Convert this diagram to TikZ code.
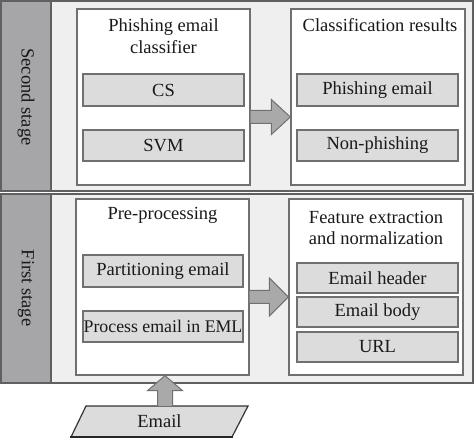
\documentclass[tikz,border=0pt]{standalone}
\usepackage{fontspec}
\setmainfont{Liberation Serif}
\usetikzlibrary{calc}
\definecolor{labelgray}{HTML}{A6A6A9}
\definecolor{panelgray}{HTML}{EFEFEF}
\definecolor{itemgray}{HTML}{DCDCDC}
\definecolor{linegray}{HTML}{707070}
\definecolor{framegray}{HTML}{606060}
\definecolor{arrowgray}{HTML}{A9A9A9}
\begin{document}
\begin{tikzpicture}[x=1pt,y=-1pt,
  every node/.style={font=\rmfamily\fontsize{18.5}{21.5}\selectfont, text=black!90},
  stagelabel/.style={fill=labelgray, draw=framegray, line width=1.5pt},
  stagepanel/.style={fill=panelgray, draw=framegray, line width=1.5pt},
  groupbox/.style={fill=white, draw=linegray, line width=1.3pt, inner sep=0pt},
  itembox/.style={fill=itemgray, draw=linegray, line width=1.3pt, inner sep=0pt, minimum width=161pt},
  titletext/.style={inner sep=0pt, align=center},
  bigarrow/.style={fill=arrowgray, draw=linegray, line width=1pt, line join=miter}
]
\useasboundingbox (0,0) rectangle (474,438);

% stage panels
\draw[stagepanel] (1,1) rectangle (473,191);
\draw[stagelabel] (1,1) rectangle (51,191);
\draw[stagepanel] (1,194) rectangle (473,383);
\draw[stagelabel] (1,194) rectangle (51,383);
\node[rotate=-90] (lab2) at (26,97) {Second stage};
\node[rotate=-90] (lab1) at (26,288) {First stage};

% second stage
\node[groupbox, minimum width=173pt, minimum height=176pt] (pec) at (163.5,97) {};
\node[titletext] (pect) at (163.5,36) {Phishing email\\classifier};
\node[itembox, minimum height=32pt] (cs) at (163.5,90) {CS};
\node[itembox, minimum height=31pt] (svm) at (163.5,145.5) {SVM};

\node[groupbox, minimum width=174pt, minimum height=176pt] (res) at (378,97) {};
\node[titletext] (rest) at (380,25) {Classification results};
\node[itembox, minimum height=32pt] (phe) at (377.5,90) {Phishing email};
\node[itembox, minimum height=31pt] (nph) at (377.5,145.5) {Non-phishing};

% first stage
\node[groupbox, minimum width=173pt, minimum height=176pt] (pre) at (162.5,287) {};
\node[titletext] (pret) at (162.5,215) {Pre-processing};
\node[itembox, minimum width=160pt, minimum height=32pt] (part) at (163,271) {Partitioning email};
\node[itembox, minimum width=160pt, minimum height=31pt] (proc) at (163,326.5) {\fontsize{17.8}{21}\selectfont Process email in EML};

\node[groupbox, minimum width=174pt, minimum height=176pt] (fen) at (376,287) {};
\node[titletext] (fent) at (376,228) {Feature extraction\\and normalization};
\node[itembox, minimum height=30pt] (hdr) at (377.5,278) {Email header};
\node[itembox, minimum height=30pt] (body) at (377.5,312) {Email body};
\node[itembox, minimum height=30pt] (url) at (377.5,347) {URL};

% email input
\fill[itemgray] (86,406) -- (248,406) -- (232,437) -- (71,437) -- cycle;
\draw[black!80, line width=1.2pt] (71,437) -- (86,406) -- (248,406) -- (232,437);
\draw[black!85, line width=2.2pt] (70,437) -- (233,437);
\node[inner sep=0pt, minimum width=150pt, minimum height=31pt] (email) at (159.5,421.5) {Email};

% big arrows
\path ($(pec.east)+(0,20)$) coordinate (a1s);
\path ($(res.west)+(0,20)$) coordinate (a1e);
\draw[bigarrow] ($(a1s)+(0,-6.5)$) -- ($(a1e)+(-19,-6.5)$) -- ($(a1e)+(-19,-17.5)$) -- (a1e)
  -- ($(a1e)+(-19,17.5)$) -- ($(a1e)+(-19,6.5)$) -- ($(a1s)+(0,6.5)$);

\path ($(pre.east)+(0,10)$) coordinate (a2s);
\path ($(fen.west)+(0,10)$) coordinate (a2e);
\draw[bigarrow] ($(a2s)+(0,-6.5)$) -- ($(a2e)+(-19,-6.5)$) -- ($(a2e)+(-19,-19)$) -- (a2e)
  -- ($(a2e)+(-19,19)$) -- ($(a2e)+(-19,6.5)$) -- ($(a2s)+(0,6.5)$);

\path ($(email.north)+(5.5,0)$) coordinate (a3s);
\path ($(pre.south)+(2.5,0)$) coordinate (a3e);
\draw[bigarrow] ($(a3s)+(-7.5,0)$) -- ($(a3e)+(-7.5,15)$) -- ($(a3e)+(-17.5,15)$) -- (a3e)
  -- ($(a3e)+(17.5,15)$) -- ($(a3e)+(7.5,15)$) -- ($(a3s)+(7.5,0)$);
\end{tikzpicture}
\end{document}
